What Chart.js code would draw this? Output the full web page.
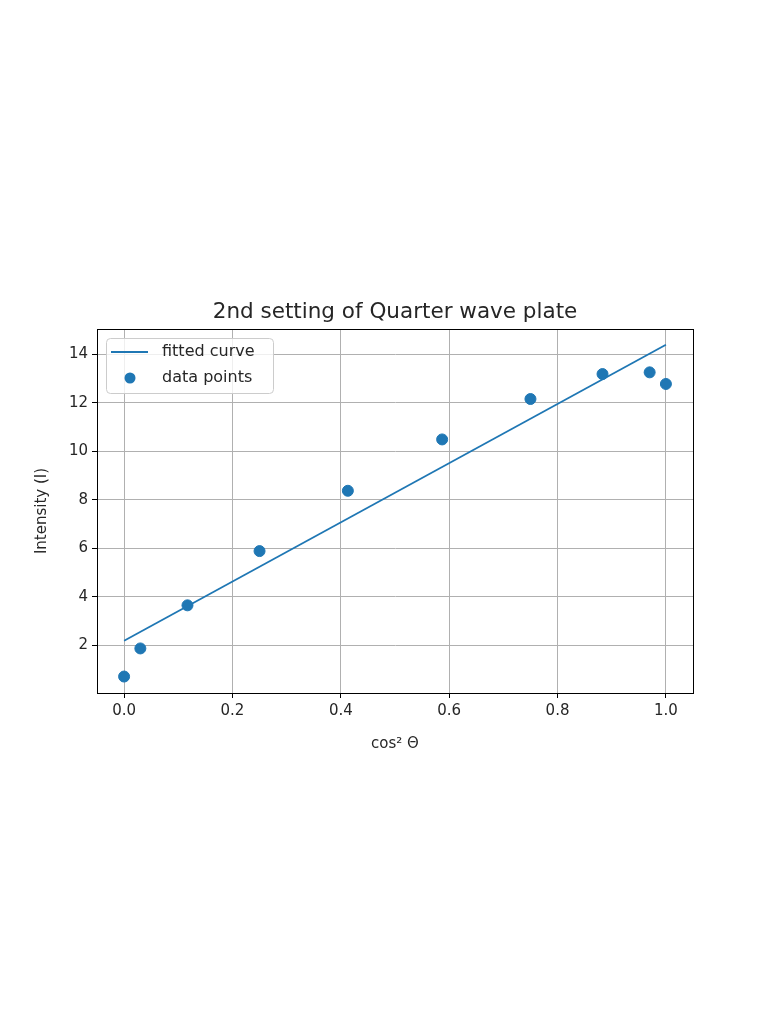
<!DOCTYPE html>
<html>
<head>
<meta charset="utf-8">
<script src="https://cdn.jsdelivr.net/npm/chart.js@4/dist/chart.umd.min.js"></script>
<style>
  html, body { margin: 0; padding: 0; background: #fff; }
  #chart { display: block; }
</style>
</head>
<body>
<canvas id="chart" width="768" height="1024"></canvas>
<script>
// cos^2 theta for theta = 90..0 deg, and the measured intensities
const cosSq = [0.0, 0.030, 0.117, 0.25, 0.413, 0.587, 0.75, 0.883, 0.970, 1.0];
const intensity = [0.70, 1.86, 3.64, 5.88, 8.37, 10.49, 12.16, 13.19, 13.26, 12.78];

// fitted straight line, end points
const fitX = [0.0, 1.0];
const fitY = [2.18, 14.40];

const xTicks = [0.0, 0.2, 0.4, 0.6, 0.8, 1.0];
const yTicks = [2, 4, 6, 8, 10, 12, 14];

const chartTitle = '2nd setting of Quarter wave plate';
const blue = '#1f77b4';
const font = 'DejaVu Sans';

// title centred over the plot area, like matplotlib does it
const plotTitle = {
    id: 'plotTitle',
    afterDraw(chart) {
        const ctx = chart.ctx;
        const a = chart.chartArea;
        ctx.save();
        ctx.font = '21.5px "' + font + '"';
        ctx.fillStyle = '#262626';
        ctx.textAlign = 'center';
        ctx.textBaseline = 'middle';
        ctx.fillText(chartTitle, (a.left + a.right) / 2, a.top - 17);
        ctx.restore();
    }
};

// legend box drawn inside the plot, top left
const insideLegend = {
    id: 'insideLegend',
    afterDatasetsDraw(chart) {
        const ctx = chart.ctx;
        const area = chart.chartArea;
        const sets = chart.data.datasets;
        const x0 = area.left + 9, y0 = area.top + 9;
        const w = 167, h = 55;

        ctx.save();
        ctx.fillStyle = 'rgba(255,255,255,0.8)';
        ctx.strokeStyle = '#cccccc';
        ctx.lineWidth = 1;
        ctx.beginPath();
        ctx.roundRect(x0 + 0.5, y0 + 0.5, w, h, 4);
        ctx.fill();
        ctx.stroke();

        ctx.font = '16px "' + font + '"';
        ctx.fillStyle = '#262626';
        ctx.textBaseline = 'middle';

        // line entry
        ctx.strokeStyle = blue;
        ctx.lineWidth = 1.8;
        ctx.beginPath();
        ctx.moveTo(x0 + 5, y0 + 14);
        ctx.lineTo(x0 + 42, y0 + 14);
        ctx.stroke();
        ctx.fillText(sets[1].label, x0 + 56, y0 + 14);

        // scatter entry
        ctx.fillStyle = blue;
        ctx.beginPath();
        ctx.arc(x0 + 24, y0 + 40, 5.5, 0, Math.PI * 2);
        ctx.fill();
        ctx.fillStyle = '#262626';
        ctx.fillText(sets[0].label, x0 + 56, y0 + 40);
        ctx.restore();
    }
};

// black frame round the plot area
const frame = {
    id: 'frame',
    afterDraw(chart) {
        const ctx = chart.ctx;
        const a = chart.chartArea;
        ctx.save();
        ctx.strokeStyle = '#000';
        ctx.lineWidth = 1;
        ctx.strokeRect(a.left + 0.5, a.top + 0.5, a.right - a.left, a.bottom - a.top);
        ctx.restore();
    }
};

new Chart(document.getElementById('chart'), {
    type: 'scatter',
    data: {
        datasets: [
            {
                label: 'data points',
                data: cosSq.map((x, i) => ({ x: x, y: intensity[i] })),
                backgroundColor: blue,
                borderColor: blue,
                pointRadius: 5.5,
                pointHoverRadius: 5.5,
                order: 0
            },
            {
                label: 'fitted curve',
                type: 'line',
                data: fitX.map((x, i) => ({ x: x, y: fitY[i] })),
                borderColor: blue,
                borderWidth: 1.8,
                pointRadius: 0,
                fill: false,
                order: 1
            }
        ]
    },
    options: {
        responsive: false,
        animation: false,
        layout: { padding: { left: 28, right: 75, top: 329, bottom: 271 } },
        plugins: {
            legend: { display: false },
            tooltip: { enabled: false },
            title: { display: false }
        },
        scales: {
            x: {
                type: 'linear',
                min: -0.05,
                max: 1.05,
                afterBuildTicks(scale) { scale.ticks = xTicks.map(v => ({ value: v })); },
                afterFit(scale) { scale.height = 60; },
                ticks: {
                    color: '#262626',
                    font: { family: font, size: 15 },
                    padding: 4,
                    maxRotation: 0,
                    callback: v => v.toFixed(1)
                },
                grid: { color: '#b0b0b0', tickColor: '#000', tickLength: 5, lineWidth: 1 },
                border: { color: '#000' },
                title: {
                    display: true,
                    text: 'cos² Θ',
                    color: '#262626',
                    font: { family: font, size: 15 },
                    padding: { top: 3, bottom: 0 }
                }
            },
            y: {
                type: 'linear',
                min: 0.02,
                max: 15.05,
                afterBuildTicks(scale) { scale.ticks = yTicks.map(v => ({ value: v })); },
                afterFit(scale) { scale.width = 69; },
                ticks: {
                    color: '#262626',
                    font: { family: font, size: 15 },
                    padding: 4,
                    callback: v => String(v)
                },
                grid: { color: '#b0b0b0', tickColor: '#000', tickLength: 5, lineWidth: 1 },
                border: { color: '#000' },
                title: {
                    display: true,
                    text: 'Intensity (I)',
                    color: '#262626',
                    font: { family: font, size: 15 },
                    padding: { top: 5, bottom: 0 }
                }
            }
        }
    },
    plugins: [plotTitle, insideLegend, frame]
});
</script>
</body>
</html>
